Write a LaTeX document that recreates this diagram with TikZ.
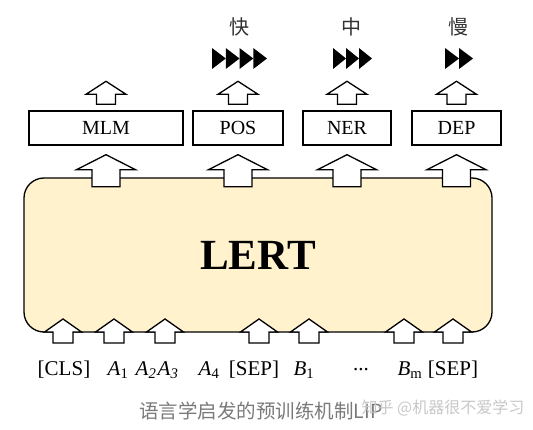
\documentclass[tikz,border=0pt]{standalone}
\usepackage{fontspec}
\setmainfont{Liberation Serif}
\newfontfamily\cjk{Noto Sans CJK SC}
\definecolor{lertfill}{HTML}{FFF2CC}
\definecolor{captiongray}{HTML}{7A7A7A}
\definecolor{markgray}{HTML}{C8C8C8}
\tikzset{
  task/.style={draw,line width=1.4pt,minimum height=34pt,inner sep=0pt,font=\fontsize{20}{20}\selectfont},
  token/.style={inner sep=0pt,font=\fontsize{21}{21}\selectfont},
  speed/.style={inner sep=0pt,text=black!80,font=\cjk\fontsize{20}{20}\selectfont},
  blockline/.style={draw,fill=white,line width=1.3pt,line join=miter},
  % block arrows (y grows downwards)
  bigarrow/.pic={\path[blockline] (0,9)--(29.5,24)--(14,24)--(14,41)--(-14,41)--(-14,24)--(-29.5,24)--cycle;},
  smallarrow/.pic={\path[blockline] (0,-29)--(20,-16)--(9.5,-16)--(9.5,-6)--(-9.5,-6)--(-9.5,-16)--(-20,-16)--cycle;},
  tokenarrow/.pic={\path[blockline] (0,-13)--(18.5,0)--(10,0)--(10,11)--(-10,11)--(-10,0)--(-18.5,0)--cycle;}
}
\begin{document}
\begin{tikzpicture}[x=1pt,y=-1pt]
\useasboundingbox[fill=white] (0,0) rectangle (533,430);
% encoder
\node[draw,line width=1.3pt,fill=lertfill,rounded corners=20pt,minimum width=468pt,minimum height=154pt] (lert) at (258,255) {};
\node[font=\fontsize{43}{43}\selectfont\bfseries] at (lert.center) {LERT};
% task heads
\node[task,minimum width=154pt] (mlm) at (106,128) {MLM};
\node[task,minimum width=90pt] (pos) at (238,128) {POS};
\node[task,minimum width=88pt] (ner) at (347,128) {NER};
\node[task,minimum width=89pt] (dep) at (456.5,128) {DEP};
\foreach \t in {mlm,pos,ner,dep}{
  \pic at (\t.south) {bigarrow};
  \pic at (\t.north) {smallarrow};
}
% speed marks
\node[speed] (fast) at (239,27) {快};
\node[speed] (mid) at (351,27) {中};
\node[speed] (slow) at (458,27) {慢};
\foreach \i in {0,...,3} \fill ({212+13.75*\i},48)--++(13.75,10.5)--++(-13.75,10.5)--cycle;
\foreach \i in {0,...,2} \fill ({333+13*\i},48)--++(13,10.5)--++(-13,10.5)--cycle;
\foreach \i in {0,1} \fill ({445+14*\i},48)--++(14,10.5)--++(-14,10.5)--cycle;
% input arrows
\foreach \x in {63,114,165,259,309,404,453}
  \pic at (\x,332) {tokenarrow};
% input tokens
\node[token] (cls) at (64,370) {[CLS]};
\node[token] (a1) at (118,370) {\textit{A}\textsubscript{1}};
\node[token] (a2) at (146,370) {\textit{A}\textsubscript{\textit{2}}};
\node[token] (a3) at (168,370) {\textit{A}\textsubscript{\textit{3}}};
\node[token] (a4) at (209,370) {\textit{A}\textsubscript{4}};
\node[token] (sep1) at (254,370) {[SEP]};
\node[token] (b1) at (304,370) {\textit{B}\textsubscript{1}};
\node[token] (dots) at (361,370) {...};
\node[token] (bm) at (410,370) {\textit{B}\textsubscript{m}};
\node[token] (sep2) at (453,370) {[SEP]};
% caption
\node[inner sep=0pt,text=captiongray,font=\cjk\fontsize{19.5}{19.5}\selectfont] (cap) at (261,411) {语言学启发的预训练机制LIP};
\node[inner sep=0pt,text=markgray,font=\cjk\fontsize{16}{16}\selectfont] (mark) at (443,408) {知乎 @机器很不爱学习};
\end{tikzpicture}
\end{document}
